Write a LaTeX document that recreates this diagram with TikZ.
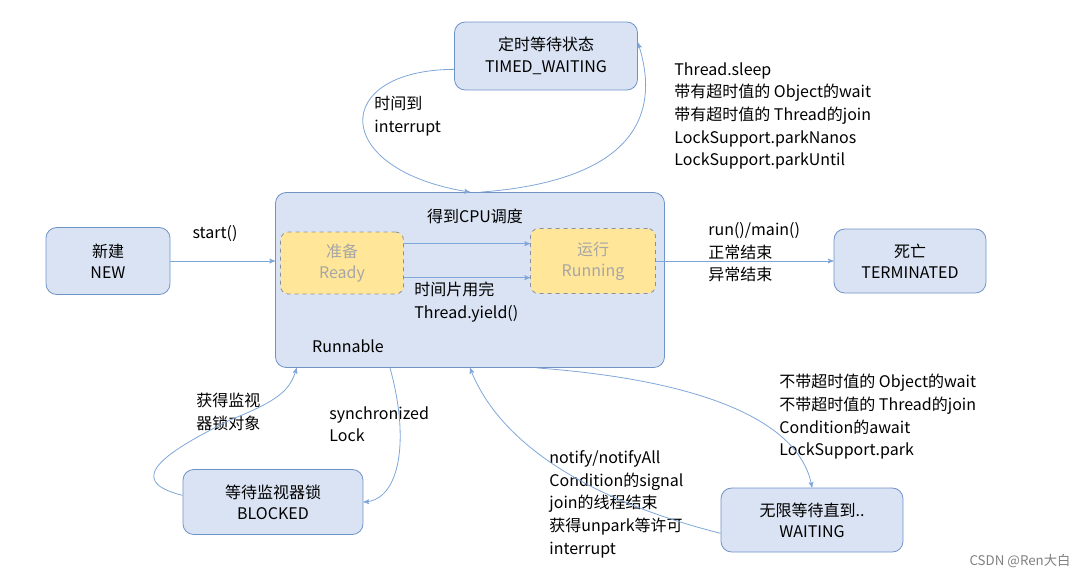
\documentclass[tikz,border=0pt]{standalone}
\usepackage{fontspec}
\setmainfont{Noto Sans CJK SC}
\usetikzlibrary{arrows,calc}
\definecolor{boxfill}{HTML}{DAE3F3}
\definecolor{boxline}{HTML}{6F93C7}
\definecolor{inner}{HTML}{FFE699}
\definecolor{arr}{HTML}{7FA6D8}
\tikzset{
  state/.style={draw=boxline,fill=boxfill,rounded corners=8pt,align=center,
                font=\fontsize{12}{16}\selectfont},
  sub/.style={draw=boxline!80!orange,dashed,fill=inner,rounded corners=6pt,align=center,
              text=gray!70,font=\fontsize{12}{16}\selectfont},
  lbl/.style={align=left,font=\fontsize{12}{17}\selectfont,inner sep=0pt},
}
\begin{document}
\begin{tikzpicture}[x=0.75pt,y=-0.75pt,->,>=stealth',semithick,draw=arr]
  \useasboundingbox (0,0) rectangle (1085,576);

  \node[state,minimum width=389*0.75pt,minimum height=175*0.75pt] (run) at (470,280) {};
  \node[state,minimum width=183*0.75pt,minimum height=68*0.75pt] (timed) at (546,56) {定时等待状态\\TIMED\_WAITING};
  \node[state,minimum width=124*0.75pt,minimum height=67*0.75pt] (new) at (108,261) {新建\\NEW};
  \node[sub,minimum width=123*0.75pt,minimum height=62*0.75pt] (ready) at (342,263) {准备\\Ready};
  \node[sub,minimum width=125*0.75pt,minimum height=65*0.75pt] (running) at (593,261) {运行\\Running};
  \node[state,minimum width=152*0.75pt,minimum height=64*0.75pt] (term) at (910,261) {死亡\\TERMINATED};
  \node[state,minimum width=180*0.75pt,minimum height=65*0.75pt] (blocked) at (273,502) {等待监视器锁\\BLOCKED};
  \node[state,minimum width=182*0.75pt,minimum height=64*0.75pt] (waiting) at (812,520) {无限等待直到..\\WAITING};

  \node[lbl] (cpu) at (475,216) {得到CPU调度};
  \node[lbl] (rname) at (348,346) {Runnable};
  \node[lbl] (start) at (215,234) {start()};
  \node[lbl,anchor=north west] (yield) at (414,282) {时间片用完\\Thread.yield()};
  \node[lbl,anchor=north west] (endl) at (708,222) {run()/main()\\正常结束\\异常结束};
  \node[lbl,anchor=north west] (tout) at (374,96) {时间到\\interrupt};
  \node[lbl,anchor=north west] (tin) at (674,62) {Thread.sleep\\带有超时值的 Object的wait\\带有超时值的 Thread的join\\LockSupport.parkNanos\\LockSupport.parkUntil};
  \node[lbl,anchor=north west] (sync) at (329,406) {synchronized\\Lock};
  \node[lbl,anchor=north west] (mon) at (196,393) {获得监视\\器锁对象};
  \node[lbl,anchor=north west] (win) at (779,374) {不带超时值的 Object的wait\\不带超时值的 Thread的join\\Condition的await\\LockSupport.park};
  \node[lbl,anchor=north west] (wout) at (549,450) {notify/notifyAll\\Condition的signal\\join的线程结束\\获得unpark等许可\\interrupt};
  \node[lbl,text=gray,font=\fontsize{10}{12}\selectfont] (mark) at (1020,561) {CSDN @Ren大白};

  \draw (new.east) -- (run.west |- new.east);
  \draw ([yshift=-11pt]ready.east) -- ([yshift=-11pt]ready.east -| running.west);
  \draw ([yshift=13pt]running.west -| ready.east) -- ([yshift=13pt]running.west);
  \draw (running.east) -- (term.west);
  \draw ([yshift=-10pt]timed.west) .. controls (330,70) and (330,170) .. ([xshift=0pt]run.north);
  \draw ([xshift=8pt]run.north) .. controls (640,180) and (660,110) .. ([yshift=10pt]timed.east);
  \draw ([xshift=-60pt]run.south) .. controls (410,440) and (400,500) .. (blocked.east);
  \draw ([yshift=5pt]blocked.west) .. controls (120,480) and (170,450) .. (230,420)
        .. controls (280,400) and (290,390) .. ([xshift=-130pt]run.south);
  \draw ([xshift=50pt]run.south) .. controls (700,380) and (800,420) .. (waiting.north);
  \draw ([yshift=-10pt]waiting.west) .. controls (550,490) and (490,420) .. (run.south);
\end{tikzpicture}
\end{document}
